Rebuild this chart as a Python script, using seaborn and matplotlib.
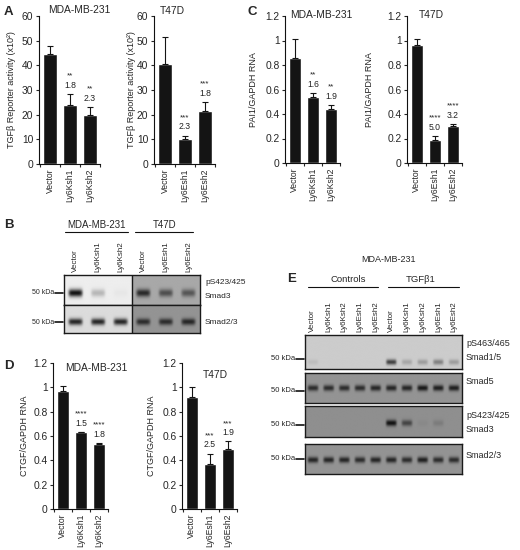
import numpy as np
import pandas as pd
import matplotlib
matplotlib.use("Agg")
import matplotlib.pyplot as plt
from matplotlib.lines import Line2D
import seaborn as sns

sns.set_style("ticks")
plt.rcParams["font.family"] = ["Liberation Sans", "DejaVu Sans"]

# ---------------- data ----------------
KSH_LANES = ["Vector", "Ly6Ksh1", "Ly6Ksh2"]
ESH_LANES = ["Vector", "Ly6Esh1", "Ly6Esh2"]

A_MDA = [44.5, 24.0, 20.0]
A_MDA_ERR = [3.5, 4.5, 3.0]
A_MDA_FOLD = ["", "1.8", "2.3"]
A_MDA_SIG = ["", "**", "**"]
A_T47D = [40.5, 10.0, 21.5]
A_T47D_ERR = [11.0, 1.5, 3.5]
A_T47D_FOLD = ["", "2.3", "1.8"]
A_T47D_SIG = ["", "***", "***"]

C_MDA = [0.86, 0.54, 0.44]
C_MDA_ERR = [0.15, 0.03, 0.03]
C_MDA_FOLD = ["", "1.6", "1.9"]
C_MDA_SIG = ["", "**", "**"]
C_T47D = [0.96, 0.19, 0.30]
C_T47D_ERR = [0.05, 0.03, 0.02]
C_T47D_FOLD = ["", "5.0", "3.2"]
C_T47D_SIG = ["", "****", "****"]

D_MDA = [0.97, 0.63, 0.535]
D_MDA_ERR = [0.04, 0.005, 0.01]
D_MDA_FOLD = ["", "1.5", "1.8"]
D_MDA_SIG = ["", "****", "****"]
D_T47D = [0.92, 0.37, 0.49]
D_T47D_ERR = [0.085, 0.085, 0.065]
D_T47D_FOLD = ["", "2.5", "1.9"]
D_T47D_SIG = ["", "***", "***"]

# western blot band intensities (0 = none, 1 = strongest)
B_LANES = KSH_LANES + ESH_LANES
B_PSMAD3 = [1.0, 0.25, 0.03, 0.85, 0.6, 0.55]
B_SMAD23 = [0.9, 0.9, 0.9, 0.8, 0.8, 0.85]

E_LANES = ["Vector", "Ly6Ksh1", "Ly6Ksh2", "Ly6Esh1", "Ly6Esh2"] * 2
E_PSMAD15 = [0.08, 0, 0, 0, 0, 0.75, 0.2, 0.25, 0.4, 0.25]
E_SMAD5 = [0.8, 0.8, 0.8, 0.8, 0.85, 0.85, 0.85, 0.95, 0.9, 0.9]
E_PSMAD3 = [0, 0, 0, 0, 0, 1.0, 0.6, 0.05, 0.15, 0]
E_SMAD23 = [0.85, 0.85, 0.85, 0.8, 0.85, 0.85, 0.8, 0.9, 0.8, 0.8]

W, H = 520, 550
BAR = "#141414"
fig = plt.figure(figsize=(W / 100, H / 100), dpi=100)


def px_axes(x0, y0, x1, y1):
    return fig.add_axes([x0 / W, 1 - y1 / H, (x1 - x0) / W, (y1 - y0) / H])


def ftext(x, y, s, **kw):
    kw.setdefault("ha", "center")
    kw.setdefault("va", "center")
    return fig.text(x / W, 1 - y / H, s, **kw)


def hline(x0, x1, y, lw=0.8):
    fig.add_artist(Line2D([x0 / W, x1 / W], [1 - y / H, 1 - y / H], color="#111", lw=lw))


def bar_panel(box, labels, vals, errs, folds, sigs, ymax, ystep, ylabel, ylabel_x):
    ax = px_axes(*box)
    df = pd.DataFrame({"lane": labels, "value": vals})
    sns.barplot(data=df, x="lane", y="value", color=BAR, saturation=1,
                width=0.7, errorbar=None, ax=ax)
    xs = np.arange(len(vals))
    ax.errorbar(xs, vals, yerr=[np.zeros(len(vals)), errs], fmt="none",
                ecolor=BAR, elinewidth=0.8, capsize=2.5, capthick=0.8)
    for i, (v, e, f, s) in enumerate(zip(vals, errs, folds, sigs)):
        if f:
            ax.annotate(f, (i, v + e), xytext=(0, 3), textcoords="offset points",
                        ha="center", va="bottom", fontsize=6.2, color="#222")
        if s:
            ax.annotate(s, (i, v + e), xytext=(0, 10.5), textcoords="offset points",
                        ha="center", va="bottom", fontsize=5.8, color="#222")
    ax.set_xlim(-0.55, len(vals) - 0.5)
    ax.set_ylim(0, ymax)
    ticks = np.round(np.arange(0, ymax + ystep / 2, ystep), 3)
    ax.set_yticks(ticks)
    ax.set_yticklabels([f"{t:g}" for t in ticks], fontsize=7.4)
    ax.set_xticks(xs)
    ax.set_xticklabels(labels, rotation=90, fontsize=6.2)
    ax.set_xticks(np.arange(-0.5, len(vals)), minor=True)
    ax.tick_params(axis="x", which="major", length=0, pad=3)
    ax.tick_params(axis="x", which="minor", length=2.5, width=0.8)
    ax.tick_params(axis="y", length=2.5, width=0.8, pad=1.5)
    ax.set_xlabel("")
    ax.set_ylabel("")
    sns.despine(ax=ax)
    for sp in ("left", "bottom"):
        ax.spines[sp].set_linewidth(0.8)
        ax.spines[sp].set_color("#111")
    ftext(ylabel_x, (box[1] + box[3]) / 2, ylabel, rotation=90, fontsize=6.5)
    return ax


def blot_row(box, bands, bg, band_y, band_h, band_w=0.31):
    ax = px_axes(*box)
    n = len(bands)
    xs = np.linspace(-0.5, n - 0.5, n * 40)
    ys = np.linspace(0, 1, 80)
    X, Y = np.meshgrid(xs, ys)
    lane = np.clip(np.round(X), 0, n - 1).astype(int)
    prof = np.exp(-(np.abs(X - lane) / band_w) ** 6) * np.exp(-((Y - band_y) / band_h) ** 2)
    base = np.asarray(bg)[lane]
    img = base - (base - 0.07) * np.asarray(bands)[lane] * prof
    ax.imshow(img, cmap="gray", vmin=0, vmax=1, extent=(-0.5, n - 0.5, 1, 0),
              aspect="auto", interpolation="bilinear")
    ax.set_xticks([])
    ax.set_yticks([])
    for sp in ax.spines.values():
        sp.set_linewidth(1.0)
        sp.set_color("#1a1a1a")
    return ax


def lane_labels(x0, x1, y, labels, fs):
    n = len(labels)
    for i, lab in enumerate(labels):
        ftext(x0 + (i + 0.5) * (x1 - x0) / n, y, lab, rotation=90, va="bottom", fontsize=fs)


def kda(x_end, y, fs):
    ftext(x_end - 9, y, "50 kDa", ha="right", fontsize=fs)
    hline(x_end - 8, x_end, y, lw=1.2)


# ---------------- panel A ----------------
bar_panel((39, 16, 100, 164), KSH_LANES, A_MDA, A_MDA_ERR, A_MDA_FOLD, A_MDA_SIG,
          60, 10, "TGFβ Reporter activity (x10²)", 12)
ftext(79, 10, "MDA-MB-231", fontsize=7.4)
bar_panel((154, 16, 215, 164), ESH_LANES, A_T47D, A_T47D_ERR, A_T47D_FOLD, A_T47D_SIG,
          60, 10, "TGFβ Reporter activity (x10²)", 131)
ftext(172, 11, "T47D", fontsize=7.4)
ftext(8, 12, "A", fontsize=9.5, fontweight="bold")

# ---------------- panel C ----------------
bar_panel((285, 16, 340, 163), KSH_LANES, C_MDA, C_MDA_ERR, C_MDA_FOLD, C_MDA_SIG,
          1.2, 0.2, "PAI1/GAPDH RNA", 254)
ftext(321, 15, "MDA-MB-231", fontsize=7.4)
bar_panel((407, 16, 462, 163), ESH_LANES, C_T47D, C_T47D_ERR, C_T47D_FOLD, C_T47D_SIG,
          1.2, 0.2, "PAI1/GAPDH RNA", 370)
ftext(431, 15, "T47D", fontsize=7.4)
ftext(252, 12, "C", fontsize=9.5, fontweight="bold")

# ---------------- panel D ----------------
bar_panel((53, 363, 108, 509), KSH_LANES, D_MDA, D_MDA_ERR, D_MDA_FOLD, D_MDA_SIG,
          1.2, 0.2, "CTGF/GAPDH RNA", 25)
ftext(96, 368, "MDA-MB-231", fontsize=7.4)
bar_panel((182, 363, 237, 509), ESH_LANES, D_T47D, D_T47D_ERR, D_T47D_FOLD, D_T47D_SIG,
          1.2, 0.2, "CTGF/GAPDH RNA", 152)
ftext(215, 375, "T47D", fontsize=7.4)
ftext(9, 366, "D", fontsize=9.5, fontweight="bold")

# ---------------- panel B ----------------
ftext(9, 225, "B", fontsize=9.5, fontweight="bold")
ftext(97, 225, "MDA-MB-231", fontsize=7)
hline(65, 128, 232)
ftext(165, 225, "T47D", fontsize=7)
hline(135, 193, 232)
lane_labels(64, 200, 272, B_LANES, 5.8)
ax = blot_row((64, 275, 200, 305), B_PSMAD3, [0.93] * 3 + [0.66] * 3, 0.6, 0.13)
ax.axvline(2.5, color="#1a1a1a", lw=1)
ax = blot_row((64, 305, 200, 333), B_SMAD23, [0.86] * 3 + [0.58] * 3, 0.6, 0.12)
ax.axvline(2.5, color="#1a1a1a", lw=1)
ftext(205, 283, "pS423/425", ha="left", fontsize=6)
ftext(205, 297, "Smad3", ha="left", fontsize=6)
ftext(205, 322, "Smad2/3", ha="left", fontsize=6)
kda(63, 293, 5)
kda(63, 322, 5)

# ---------------- panel E ----------------
ftext(388, 260, "MDA-MB-231", fontsize=6.5)
ftext(292, 279, "E", fontsize=9.5, fontweight="bold")
ftext(348, 280, "Controls", fontsize=6.8)
hline(308, 378, 287)
ftext(421, 280, "TGFβ1", fontsize=6.8)
hline(388, 459, 287)
lane_labels(305, 462, 332, E_LANES, 5.8)
blot_row((305, 335, 462, 369), E_PSMAD15, [0.8] * 10, 0.8, 0.08, 0.33)
blot_row((305, 373, 462, 403), E_SMAD5, [0.58] * 10, 0.5, 0.1, 0.34)
blot_row((305, 406, 462, 437), E_PSMAD3, [0.56] * 10, 0.55, 0.1, 0.34)
blot_row((305, 444, 462, 474), E_SMAD23, [0.58] * 10, 0.53, 0.1, 0.34)
for y, lab in [(343, "pS463/465"), (357, "Smad1/5"), (381, "Smad5"),
               (416, "pS423/425"), (430, "Smad3"), (455, "Smad2/3")]:
    ftext(466, y, lab, ha="left", fontsize=6.5)
for y in (359, 391, 425, 459):
    kda(304, y, 5.5)

fig.savefig("out.png", dpi=100, facecolor="white")
